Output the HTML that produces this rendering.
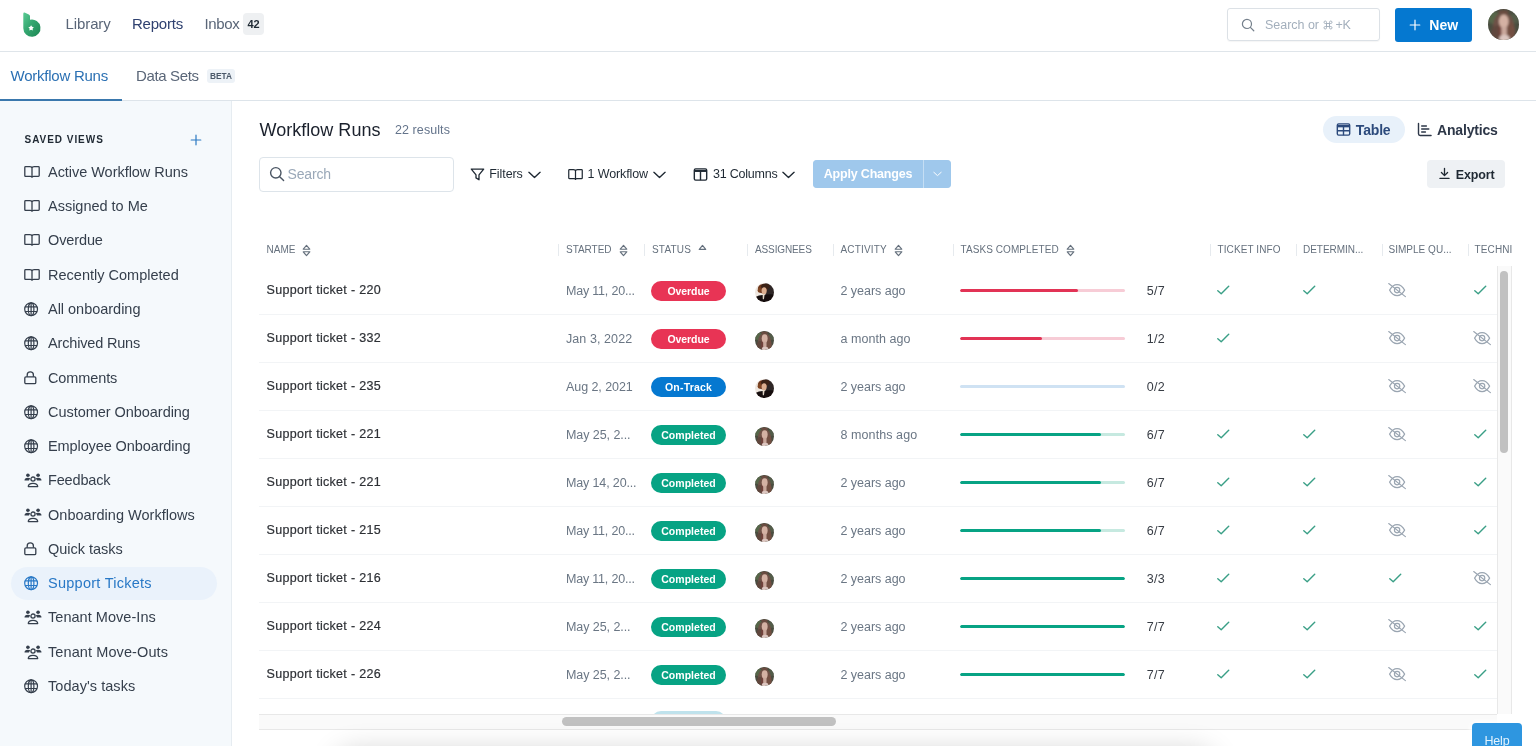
<!DOCTYPE html>
<html><head>
<meta charset="utf-8">
<title>Workflow Runs</title>
<style>
*{box-sizing:border-box;margin:0;padding:0}
html,body{width:1536px;height:746px;overflow:hidden;background:#fff}
body{will-change:transform;font-family:"Liberation Sans",sans-serif;color:#2d3748;position:relative;-webkit-font-smoothing:antialiased}
.abs{position:absolute}
svg{display:block;overflow:visible}
/* top bar */
#top{position:absolute;left:0;top:0;width:1536px;height:52px;background:#fff;border-bottom:1px solid #dfe5ea}
.nav{position:absolute;top:15px;font-size:15px;line-height:18px;color:#5a6678;white-space:nowrap}
/* sub tabs */
#tabs{position:absolute;left:0;top:52px;width:1536px;height:49px;background:#fff;border-bottom:1px solid #dde4ea}
.tab{position:absolute;top:15px;font-size:15px;line-height:18px;white-space:nowrap}
/* sidebar */
#side{position:absolute;left:0;top:101px;width:232px;height:645px;background:#f5f9fc;border-right:1px solid #e6ecf1}
.sv{position:absolute;left:0;width:232px;height:34px}
.sv .ic{position:absolute;left:24px;top:9px;width:16px;height:16px;color:#353f4c}
.sv .tx{position:absolute;left:48px;top:8px;font-size:14.5px;line-height:18px;color:#353f4c;white-space:nowrap}
/* main */
#main{position:absolute;left:232px;top:101px;width:1304px;height:645px;background:#fff}
.tb{position:absolute;font-size:12.5px;line-height:16px;color:#1f2933;white-space:nowrap}
.th{position:absolute;top:244px;font-size:10px;line-height:12px;color:#66717e;white-space:nowrap}
.sep{position:absolute;top:244px;width:1px;height:12px;background:#e6eaee}
.row{position:absolute;left:259px;width:1238px;height:48px;border-bottom:1px solid #f2f4f6}
.row>*{position:absolute}
.nm{left:7px;top:15px;font-size:12.5px;line-height:16px;color:#2e3136;-webkit-text-stroke:.2px #2e3136;white-space:nowrap;letter-spacing:.1px}
.dt{left:307px;top:16px;font-size:12.5px;line-height:16px;color:#6a7684;white-space:nowrap}
.bd{left:392px;top:14px;width:75px;height:20px;border-radius:10px;color:#fff;font-weight:bold;font-size:10.5px;line-height:20px;text-align:center;white-space:nowrap}
.od{background:#e83455}.ot{background:#0578d0}.cp{background:#07a384}
.av{left:496.2px;top:15.8px;width:19px;height:19px;border-radius:50%;overflow:hidden}
.ac{left:581px;top:16px;font-size:12.5px;line-height:16px;color:#6a7684;white-space:nowrap}
.pb{left:701px;top:22px;width:165px;height:3px;border-radius:2px;overflow:hidden}
.pb i{display:block;height:3px;border-radius:2px}
.ct{left:859px;top:16px;width:47px;text-align:right;font-size:12.5px;line-height:16px;color:#383d45;white-space:nowrap;letter-spacing:.25px}
.k{top:16px;width:14px;height:14px}
.e{top:15.2px;width:18px;height:16px;margin-left:-0.7px}
.ava{background:radial-gradient(circle at 45% 38%,#e9cdb9 0,#d9b59f 16%,#6a4a3a 30%,rgba(0,0,0,0) 46%),linear-gradient(180deg,#d8d0c8 0,#b9a89a 45%,#1b1617 62%,#120f10 100%)}
.avb{background:radial-gradient(ellipse 32% 40% at 50% 42%,#ecc7b6 0,#dfb3a0 60%,rgba(0,0,0,0) 100%),radial-gradient(ellipse 60% 85% at 50% 60%,#84503f 0,#7a4a3b 60%,rgba(0,0,0,0) 100%),linear-gradient(180deg,#55563f,#4a4a3a)}
</style>
</head>
<body>
<svg width="0" height="0" style="position:absolute">
<defs>
<filter id="bl1" x="-10%" y="-10%" width="120%" height="120%"><feGaussianBlur stdDeviation="1.1"></feGaussianBlur></filter>
<filter id="bl2" x="-10%" y="-10%" width="120%" height="120%"><feGaussianBlur stdDeviation="0.7"></feGaussianBlur></filter>
<symbol id="av-b" viewBox="0 0 32 32"><rect width="32" height="32" fill="#4a4d40"></rect><g filter="url(#bl1)"><circle cx="6" cy="9" r="6.5" fill="#56664a"></circle><circle cx="27" cy="10" r="5" fill="#535c48"></circle><ellipse cx="16" cy="19" rx="11" ry="16" fill="#6e5146"></ellipse><ellipse cx="8.5" cy="25" rx="5.5" ry="8" fill="#60463d"></ellipse><ellipse cx="23.5" cy="23" rx="4.5" ry="9" fill="#735043"></ellipse><ellipse cx="12.3" cy="23" rx="1.8" ry="7" fill="#71423a"></ellipse><ellipse cx="16.3" cy="12.8" rx="5" ry="7.2" fill="#d4b1a3"></ellipse><rect x="13.8" y="18" width="5.6" height="12" fill="#caa89c"></rect><ellipse cx="17" cy="30.5" rx="5.5" ry="4" fill="#dcc6c0"></ellipse><ellipse cx="16" cy="3" rx="5.5" ry="2" fill="#6a4c40"></ellipse></g></symbol>
<symbol id="av-a" viewBox="0 0 20 20"><rect width="20" height="20" fill="#efe7e0"></rect><g filter="url(#bl2)"><path d="M11 0H20V20H11Z" fill="#2e2828"></path><ellipse cx="8" cy="6" rx="5" ry="4.8" fill="#6d391f"></ellipse><ellipse cx="11" cy="3.6" rx="4.5" ry="3" fill="#3a2118"></ellipse><ellipse cx="4.6" cy="7.6" rx="1.8" ry="2.6" fill="#7e4423"></ellipse><ellipse cx="9.6" cy="8.2" rx="2.7" ry="3.7" fill="#dcae8f"></ellipse><path d="M0 15Q5 12.2 9 12.6Q14 11.5 20 12V20H0Z" fill="#120e0e"></path><path d="M8 11.6H10.2L9.4 17.2H8.2Z" fill="#e4d6c6"></path></g></symbol>
<symbol id="i-book" viewBox="0 0 16 16"><path d="M0.8 3.5Q0.8 2.7 1.6 2.7H5.8Q8 2.7 8 4.3Q8 2.7 10.2 2.7H14.4Q15.2 2.7 15.2 3.5V11.6Q15.2 12.4 14.4 12.4H9.6Q8 12.4 8 13.3Q8 12.4 6.4 12.4H1.6Q0.8 12.4 0.8 11.6ZM8 4.3V13.2" fill="none" stroke="currentColor" stroke-width="1.3" stroke-linejoin="round" stroke-linecap="round"></path></symbol>
<symbol id="i-globe" viewBox="0 0 16 16"><g fill="none" stroke="currentColor" stroke-width="1.2"><circle cx="7.1" cy="8.2" r="6.4"></circle><ellipse cx="7.1" cy="8.2" rx="2.8" ry="6.4"></ellipse><path d="M7.1 1.8V14.6M1.2 5.9H13M1.2 10.5H13"></path></g></symbol>
<symbol id="i-lock" viewBox="0 0 16 16"><g fill="none" stroke="currentColor" stroke-width="1.3" stroke-linejoin="round"><rect x="0.8" y="6.8" width="11" height="6.9" rx="1.2"></rect><path d="M3.2 6.8V4.9a3.1 3.1 0 0 1 6.2 0V6.8"></path></g></symbol>
<symbol id="i-users" viewBox="0 0 20 16"><g fill="currentColor"><circle cx="3.9" cy="3.2" r="1.8"></circle><circle cx="14.1" cy="3.2" r="1.8"></circle><path d="M0.5 8.5Q0.5 5.8 3.9 5.8Q5.7 5.8 6.3 6.6Q5.2 7.4 5 8.5Z"></path><path d="M17.5 8.5Q17.5 5.8 14.1 5.8Q12.3 5.8 11.7 6.6Q12.8 7.4 13 8.5Z"></path></g><g fill="none" stroke="currentColor" stroke-width="1.3"><circle cx="9" cy="7.1" r="2.1"></circle><path d="M4.3 14.6Q4.3 11.4 9 11.4Q13.7 11.4 13.7 14.6Z" stroke-linejoin="round"></path></g></symbol>
<symbol id="i-search" viewBox="0 0 16 16"><g fill="none" stroke="currentColor" stroke-width="1.4" stroke-linecap="round"><circle cx="6.8" cy="6.8" r="5.2"></circle><path d="M10.7 10.7L14.6 14.6"></path></g></symbol>
<symbol id="i-filter" viewBox="0 0 16 16"><path d="M1.4 2.2H14.6L9.6 8.4V13.6L6.4 11.6V8.4Z" fill="none" stroke="currentColor" stroke-width="1.4" stroke-linejoin="round"></path></symbol>
<symbol id="i-chev" viewBox="0 0 14 8"><path d="M1 1L7 6.6L13 1" fill="none" stroke="currentColor" stroke-width="1.5" stroke-linecap="round" stroke-linejoin="round"></path></symbol>
<symbol id="i-cols" viewBox="0 0 16 16"><g fill="none" stroke="currentColor" stroke-width="1.5" stroke-linejoin="round"><rect x="1.4" y="2" width="13.2" height="12" rx="1.4"></rect><path d="M1.4 4.2H14.6" stroke-width="2.2"></path><path d="M8 4V14"></path></g></symbol>
<symbol id="i-table" viewBox="0 0 16 16"><g fill="none" stroke="currentColor" stroke-width="1.5" stroke-linejoin="round"><rect x="1.4" y="2" width="13.2" height="12" rx="1.4"></rect><path d="M1.4 4.4H14.6" stroke-width="2.6"></path><path d="M8 5V14M1.4 9.4H14.6"></path></g></symbol>
<symbol id="i-chart" viewBox="0 0 16 16"><path d="M1.6 1.6V12.6Q1.6 14.4 3.4 14.4H15M5 4.2H10M5 7.4H12.6M5 10.6H9" fill="none" stroke="currentColor" stroke-width="1.5" stroke-linecap="round"></path></symbol>
<symbol id="i-dl" viewBox="0 0 16 16"><path d="M8 1.6V10.4M4.2 6.8L8 10.6L11.8 6.8M2.4 14H13.6" fill="none" stroke="currentColor" stroke-width="1.6" stroke-linecap="round" stroke-linejoin="round"></path></symbol>
<symbol id="i-sort" viewBox="0 0 10 14"><g fill="none" stroke="currentColor" stroke-width="1.3" stroke-linejoin="round"><path d="M5 1.2L8.6 5.6H1.4Z"></path><path d="M5 12.8L8.6 8.4H1.4Z"></path></g></symbol>
<symbol id="i-asc" viewBox="0 0 10 7"><path d="M5 1.2L8.6 5.6H1.4Z" fill="none" stroke="currentColor" stroke-width="1.3" stroke-linejoin="round"></path></symbol>
<symbol id="i-check" viewBox="0 0 14 14"><path d="M0.8 7.7L4.2 10.7L11.7 3.3" fill="none" stroke="currentColor" stroke-width="1.4" stroke-linecap="round" stroke-linejoin="round"></path></symbol>
<symbol id="i-eye" viewBox="0 0 18 16"><g fill="none" stroke="currentColor" stroke-width="1.15" stroke-linecap="round"><path d="M1.6 8.1Q4.6 2.6 9.1 2.6Q13.6 2.6 16.6 8.1Q13.6 13.6 9.1 13.6Q4.6 13.6 1.6 8.1Z"></path><circle cx="9.1" cy="8.1" r="2.7"></circle><path d="M0.7 1.5L17.4 14.6"></path></g></symbol>
<symbol id="i-plus" viewBox="0 0 12 12"><path d="M6 1.2V10.8M1.2 6H10.8" fill="none" stroke="currentColor" stroke-width="1.2" stroke-linecap="round"></path></symbol>
</defs></svg>
<!-- TOPBAR -->
<div id="top">
  <div class="abs" id="logo" style="left:22px;top:12px;width:20px;height:26px"><svg width="20" height="26" viewBox="0 0 20 26"><defs><linearGradient id="lg" x1="0" y1="0" x2="1" y2="1"><stop offset="0" stop-color="#5acb93"></stop><stop offset=".45" stop-color="#35a771"></stop><stop offset="1" stop-color="#1c8753"></stop></linearGradient></defs><path fill="url(#lg)" fill-rule="evenodd" d="M1.3 16.2V2.1Q1.3 0.1 3.1 0.8L6.8 2.4Q8 3 8 4.3V7.8A8.6 8.6 0 1 1 1.3 16.2ZM9.10 13.20L10.04 14.81L11.86 15.20L10.62 16.59L10.80 18.45L9.10 17.70L7.40 18.45L7.58 16.59L6.34 15.20L8.16 14.81Z"></path></svg></div>
  <div class="nav" style="left: 65.6px; letter-spacing: -0.12px;">Library</div>
  <div class="nav" style="left: 132px; color: rgb(47, 65, 112); letter-spacing: -0.22px;">Reports</div>
  <div class="nav" style="left: 204.5px; letter-spacing: -0.34px;">Inbox</div>
  <div class="abs" style="left:243px;top:13px;width:21px;height:22px;border-radius:4px;background:#eef0f2;font-size:11px;line-height:22px;text-align:center;color:#1f2933;font-weight:bold">42</div>
  <div class="abs" id="gsearch" style="left:1227px;top:8px;width:153px;height:33px;border:1px solid #dce1e6;border-radius:3px;box-shadow:0 1px 1px rgba(0,0,0,.04)"><svg class="abs" style="left:13px;top:9px;width:14px;height:14px;color:#75808c" viewBox="0 0 16 16"><use href="#i-search"></use></svg><div class="abs" style="left: 37px; top: 8px; font-size: 12.5px; line-height: 16px; color: rgb(163, 175, 188); white-space: nowrap; letter-spacing: -0.02px;">Search or</div><svg class="abs" style="left:95.4px;top:11px;width:10px;height:10px;color:#a3afbc" viewBox="0 0 10 10"><path d="M3.5 3.5H2.25A1.25 1.25 0 1 1 3.5 2.25V7.75A1.25 1.25 0 1 1 2.25 6.5H7.75A1.25 1.25 0 1 1 6.5 7.75V2.25A1.25 1.25 0 1 1 7.75 3.5H3.5Z" fill="none" stroke="currentColor" stroke-width="0.95"></path></svg><div class="abs" style="left: 107.6px; top: 8px; font-size: 12.5px; line-height: 16px; color: rgb(163, 175, 188); white-space: nowrap; letter-spacing: -0.47px;">+K</div></div>
  <div class="abs" id="newbtn" style="left:1395px;top:8px;width:77px;height:34px;border-radius:3px;background:#0578d0"><svg class="abs" style="left:14px;top:11px;width:12px;height:12px;color:#fff" viewBox="0 0 12 12"><use href="#i-plus"></use></svg><div class="abs" style="left: 34.3px; top: 8px; font-size: 14px; line-height: 18px; color: rgb(255, 255, 255); font-weight: bold; white-space: nowrap; letter-spacing: 0px;">New</div></div>
  <div class="abs" id="me" style="left:1488px;top:9px;width:31px;height:31px;border-radius:50%;overflow:hidden"><svg width="31" height="31" viewBox="0 0 32 32"><use href="#av-b"></use></svg></div>
</div>
<!-- TABS -->
<div id="tabs">
  <div class="tab" style="left: 10.5px; color: rgb(43, 112, 179); letter-spacing: -0.24px;">Workflow Runs</div>
  <div class="tab" style="left: 136px; color: rgb(90, 102, 120); letter-spacing: -0.35px;">Data Sets</div>
  <div class="abs" style="left:207px;top:17.4px;width:28px;height:13.5px;border-radius:3px;background:#edf2f7"></div><div class="abs" style="left:209.8px;top:17.6px;font-size:9px;line-height:13px;color:#4a5869;font-weight:bold;white-space:nowrap;transform:scaleX(.92);transform-origin:0 50%">BETA</div>
  <div class="abs" style="left:0;top:47px;width:122px;height:2px;background:#3a78ad"></div>
</div>
<!-- SIDEBAR -->
<div id="side">
  <div class="abs" style="left: 24.5px; top: 32px; font-size: 10px; line-height: 13px; font-weight: bold; letter-spacing: 0.96px; color: rgb(31, 41, 51);">SAVED VIEWS</div>
  <div class="sv" style="top:54px"><svg class="ic" style="width:16px" viewBox="0 0 16 16"><use href="#i-book"></use></svg><div class="tx" style="letter-spacing: -0.04px;">Active Workflow Runs</div></div>
  <div class="sv" style="top:88px"><svg class="ic" style="width:16px" viewBox="0 0 16 16"><use href="#i-book"></use></svg><div class="tx" style="letter-spacing: -0.01px;">Assigned to Me</div></div>
  <div class="sv" style="top:122px"><svg class="ic" style="width:16px" viewBox="0 0 16 16"><use href="#i-book"></use></svg><div class="tx" style="letter-spacing: -0.12px;">Overdue</div></div>
  <div class="sv" style="top:156.5px"><svg class="ic" style="width:16px" viewBox="0 0 16 16"><use href="#i-book"></use></svg><div class="tx" style="letter-spacing: 0.01px;">Recently Completed</div></div>
  <div class="sv" style="top:191px"><svg class="ic" style="width:16px" viewBox="0 0 16 16"><use href="#i-globe"></use></svg><div class="tx" style="letter-spacing: -0.02px;">All onboarding</div></div>
  <div class="sv" style="top:225px"><svg class="ic" style="width:16px" viewBox="0 0 16 16"><use href="#i-globe"></use></svg><div class="tx" style="letter-spacing: -0.17px;">Archived Runs</div></div>
  <div class="sv" style="top:259.5px"><svg class="ic" style="width:16px" viewBox="0 0 16 16"><use href="#i-lock"></use></svg><div class="tx" style="letter-spacing: -0.11px;">Comments</div></div>
  <div class="sv" style="top:294px"><svg class="ic" style="width:16px" viewBox="0 0 16 16"><use href="#i-globe"></use></svg><div class="tx" style="letter-spacing: -0.04px;">Customer Onboarding</div></div>
  <div class="sv" style="top:328px"><svg class="ic" style="width:16px" viewBox="0 0 16 16"><use href="#i-globe"></use></svg><div class="tx" style="letter-spacing: -0.1px;">Employee Onboarding</div></div>
  <div class="sv" style="top:362px"><svg class="ic" style="width:20px" viewBox="0 0 20 16"><use href="#i-users"></use></svg><div class="tx" style="letter-spacing: -0.16px;">Feedback</div></div>
  <div class="sv" style="top:396.5px"><svg class="ic" style="width:20px" viewBox="0 0 20 16"><use href="#i-users"></use></svg><div class="tx" style="letter-spacing: 0.02px;">Onboarding Workflows</div></div>
  <div class="sv" style="top:431px"><svg class="ic" style="width:16px" viewBox="0 0 16 16"><use href="#i-lock"></use></svg><div class="tx" style="letter-spacing: -0.03px;">Quick tasks</div></div>
  <div class="sv" style="top:465px"><div class="abs" style="left:11px;top:1px;width:206px;height:33px;border-radius:17px;background:#eaf2fb"></div><svg class="ic" style="width:16px;color:#2878c6" viewBox="0 0 16 16"><use href="#i-globe"></use></svg><div class="tx" style="color: rgb(40, 120, 198); letter-spacing: 0.26px;">Support Tickets</div></div>
  <div class="sv" style="top:499px"><svg class="ic" style="width:20px" viewBox="0 0 20 16"><use href="#i-users"></use></svg><div class="tx" style="letter-spacing: 0.04px;">Tenant Move-Ins</div></div>
  <div class="sv" style="top:533.5px"><svg class="ic" style="width:20px" viewBox="0 0 20 16"><use href="#i-users"></use></svg><div class="tx" style="letter-spacing: 0.1px;">Tenant Move-Outs</div></div>
  <div class="sv" style="top:568px"><svg class="ic" style="width:16px" viewBox="0 0 16 16"><use href="#i-globe"></use></svg><div class="tx" style="letter-spacing: 0.05px;">Today's tasks</div></div>
  <svg class="abs" style="left:189.8px;top:32.6px;width:12px;height:12px;color:#2b79c2" viewBox="0 0 12 12"><use href="#i-plus"></use></svg>
</div>
<!-- MAIN -->
<div id="main">
  <div class="abs" style="left: 27.5px; top: 17px; font-size: 18px; line-height: 24px; color: rgb(26, 32, 44); white-space: nowrap; letter-spacing: 0.02px;">Workflow Runs</div>
  <div class="abs" style="left: 163px; top: 21px; font-size: 12.5px; line-height: 16px; color: rgb(100, 116, 139); white-space: nowrap; letter-spacing: 0.08px;">22 results</div>
  <div class="abs" style="left:1091px;top:15px;width:82px;height:27px;border-radius:14px;background:#e8f1fa"></div>
  <svg class="abs" style="left:1104px;top:21px;width:15px;height:15px;color:#2c4a7c" viewBox="0 0 16 16"><use href="#i-table"></use></svg>
  <div class="abs" style="left: 1123.8px; top: 19.6px; font-size: 14px; line-height: 18px; font-weight: bold; color: rgb(44, 74, 124); white-space: nowrap; letter-spacing: -0.17px;">Table</div>
  <svg class="abs" style="left:1185px;top:21px;width:15px;height:15px;color:#2d3748" viewBox="0 0 16 16"><use href="#i-chart"></use></svg>
  <div class="abs" style="left: 1205px; top: 19.6px; font-size: 14px; line-height: 18px; font-weight: bold; color: rgb(45, 55, 72); white-space: nowrap; letter-spacing: -0.17px;">Analytics</div>
  <!-- toolbar -->
  <div class="abs" style="left:27px;top:56px;width:195px;height:35px;border:1px solid #dde4ea;border-radius:4px"><svg class="abs" style="left:9px;top:8px;width:16px;height:16px;color:#4a5563" viewBox="0 0 16 16"><use href="#i-search"></use></svg><div class="abs" style="left: 27.5px; top: 7px; font-size: 14px; line-height: 18px; color: rgb(154, 168, 184); white-space: nowrap; letter-spacing: -0.14px;">Search</div></div>
  <svg class="abs" style="left:238px;top:66px;width:15px;height:15px;color:#1f2933" viewBox="0 0 16 16"><use href="#i-filter"></use></svg>
  <div class="tb" style="left: 257.3px; top: 65px; letter-spacing: -0.08px;">Filters</div>
  <svg class="abs" style="left:296px;top:70px;width:13px;height:8px;color:#1f2933" viewBox="0 0 14 8"><use href="#i-chev"></use></svg>
  <svg class="abs" style="left:336px;top:66px;width:15px;height:15px;color:#1f2933" viewBox="0 0 16 16"><use href="#i-book"></use></svg>
  <div class="tb" style="left: 355.5px; top: 65px; letter-spacing: -0.11px;">1 Workflow</div>
  <svg class="abs" style="left:421px;top:70px;width:13px;height:8px;color:#1f2933" viewBox="0 0 14 8"><use href="#i-chev"></use></svg>
  <svg class="abs" style="left:461px;top:66px;width:15px;height:15px;color:#1f2933" viewBox="0 0 16 16"><use href="#i-cols"></use></svg>
  <div class="tb" style="left: 481px; top: 65px; letter-spacing: -0.22px;">31 Columns</div>
  <svg class="abs" style="left:550px;top:70px;width:13px;height:8px;color:#1f2933" viewBox="0 0 14 8"><use href="#i-chev"></use></svg>
  <div class="abs" style="left:581px;top:59px;width:138px;height:28px;border-radius:4px;background:#c5def4"></div><div class="abs" style="left: 581px; top: 59px; width: 110px; height: 28px; border-radius: 4px 0px 0px 4px; background: rgb(159, 200, 236); color: rgb(255, 255, 255); font-weight: bold; font-size: 12.5px; line-height: 28px; text-align: center; white-space: nowrap; letter-spacing: -0.19px;">Apply Changes</div>
  <div class="abs" style="left:692px;top:59px;width:27px;height:28px;border-radius:0 4px 4px 0;background:#9fc8ec"><svg class="abs" style="left:9px;top:11px;width:9px;height:6px;color:#fff" viewBox="0 0 14 8"><use href="#i-chev"></use></svg></div>
  <div class="abs" style="left:1195px;top:59px;width:78px;height:28px;border-radius:4px;background:#eef1f4"><svg class="abs" style="left:11px;top:7px;width:13px;height:13px;color:#1f2933" viewBox="0 0 16 16"><use href="#i-dl"></use></svg><div class="abs" style="left: 28.7px; top: 6.8px; font-size: 12.5px; line-height: 16px; font-weight: bold; color: rgb(31, 41, 51); white-space: nowrap; letter-spacing: -0.13px;">Export</div></div>
</div>
<!-- TABLE -->
<div id="tbl" class="abs" style="left:0;top:0;width:1536px;height:746px;pointer-events:none">
  <div class="th" style="left: 266.5px; letter-spacing: 0.02px;">NAME</div>
  <svg class="abs" style="left:302px;top:243.6px;width:9px;height:13px;color:#66717e" viewBox="0 0 10 14"><use href="#i-sort"></use></svg>
  <div class="th" style="left: 566px; letter-spacing: -0.04px;">STARTED</div>
  <svg class="abs" style="left:619px;top:243.6px;width:9px;height:13px;color:#66717e" viewBox="0 0 10 14"><use href="#i-sort"></use></svg>
  <div class="th" style="left: 652px; letter-spacing: 0.17px;">STATUS</div>
  <svg class="abs" style="left:697.6px;top:243.6px;width:9px;height:7px;color:#66717e" viewBox="0 0 10 7"><use href="#i-asc"></use></svg>
  <div class="th" style="left: 755px; letter-spacing: -0.12px;">ASSIGNEES</div>
  <div class="th" style="left: 840.5px; letter-spacing: 0.15px;">ACTIVITY</div>
  <svg class="abs" style="left:894px;top:243.6px;width:9px;height:13px;color:#66717e" viewBox="0 0 10 14"><use href="#i-sort"></use></svg>
  <div class="th" style="left: 960.5px; letter-spacing: 0.08px;">TASKS COMPLETED</div>
  <svg class="abs" style="left:1066px;top:243.6px;width:9px;height:13px;color:#66717e" viewBox="0 0 10 14"><use href="#i-sort"></use></svg>
  <div class="th" style="left: 1217.5px; letter-spacing: 0.09px;">TICKET INFO</div>
  <div class="th" style="left: 1303px; letter-spacing: -0.03px;">DETERMIN...</div>
  <div class="th" style="left: 1388.5px; letter-spacing: 0.02px;">SIMPLE QU...</div>
  <div class="th" style="left: 1474.5px; letter-spacing: 0.13px;">TECHNI</div>
  <div class="sep" style="left:558px"></div>
  <div class="sep" style="left:644px"></div>
  <div class="sep" style="left:747px"></div>
  <div class="sep" style="left:833px"></div>
  <div class="sep" style="left:953px"></div>
  <div class="sep" style="left:1210px"></div>
  <div class="sep" style="left:1296px"></div>
  <div class="sep" style="left:1382px"></div>
  <div class="sep" style="left:1468px"></div>
  <div class="row" style="top:267px"><div class="nm" style="letter-spacing: 0.3px; left: 7.5px;">Support ticket - 220</div><div class="dt" style="letter-spacing: -0.2px;">May 11, 20...</div><div class="bd od" style="letter-spacing: -0.09px;">Overdue</div><div class="av"><svg width="19" height="19" viewBox="0 0 20 20"><use href="#av-a"></use></svg></div><div class="ac" style="letter-spacing: -0.03px; left: 581.5px;">2 years ago</div><div class="pb" style="background:#f7ccd6"><i style="width:118px;background:#e23355"></i></div><div class="ct">5/7</div><svg class="k" style="left:958px;color:#3a9f86" viewBox="0 0 14 14"><use href="#i-check"></use></svg><svg class="k" style="left:1044px;color:#3a9f86" viewBox="0 0 14 14"><use href="#i-check"></use></svg><svg class="e" style="left:1130px;color:#9aa5b1" viewBox="0 0 18 16"><use href="#i-eye"></use></svg><svg class="k" style="left:1215px;color:#3a9f86" viewBox="0 0 14 14"><use href="#i-check"></use></svg></div>
  <div class="row" style="top:315px"><div class="nm" style="letter-spacing: 0.3px; left: 7.5px;">Support ticket - 332</div><div class="dt" style="letter-spacing: 0.08px;">Jan 3, 2022</div><div class="bd od" style="letter-spacing: -0.09px;">Overdue</div><div class="av"><svg width="19" height="19" viewBox="0 0 32 32"><use href="#av-b"></use></svg></div><div class="ac" style="letter-spacing: 0.05px; left: 581.5px;">a month ago</div><div class="pb" style="background:#f7ccd6"><i style="width:82px;background:#e23355"></i></div><div class="ct">1/2</div><svg class="k" style="left:958px;color:#3a9f86" viewBox="0 0 14 14"><use href="#i-check"></use></svg><svg class="e" style="left:1130px;color:#9aa5b1" viewBox="0 0 18 16"><use href="#i-eye"></use></svg><svg class="e" style="left:1215px;color:#9aa5b1" viewBox="0 0 18 16"><use href="#i-eye"></use></svg></div>
  <div class="row" style="top:363px"><div class="nm" style="letter-spacing: 0.3px; left: 7.5px;">Support ticket - 235</div><div class="dt" style="letter-spacing: -0.06px;">Aug 2, 2021</div><div class="bd ot" style="letter-spacing: 0.18px;">On-Track</div><div class="av"><svg width="19" height="19" viewBox="0 0 20 20"><use href="#av-a"></use></svg></div><div class="ac" style="letter-spacing: -0.03px; left: 581.5px;">2 years ago</div><div class="pb" style="background:#cfe2f3"><i style="width:0px;background:#0d6fce"></i></div><div class="ct">0/2</div><svg class="e" style="left:1130px;color:#9aa5b1" viewBox="0 0 18 16"><use href="#i-eye"></use></svg><svg class="e" style="left:1215px;color:#9aa5b1" viewBox="0 0 18 16"><use href="#i-eye"></use></svg></div>
  <div class="row" style="top:411px"><div class="nm" style="letter-spacing: 0.3px; left: 7.5px;">Support ticket - 221</div><div class="dt" style="letter-spacing: -0.07px;">May 25, 2...</div><div class="bd cp" style="letter-spacing: 0.03px;">Completed</div><div class="av"><svg width="19" height="19" viewBox="0 0 32 32"><use href="#av-b"></use></svg></div><div class="ac" style="letter-spacing: 0.08px; left: 581.5px;">8 months ago</div><div class="pb" style="background:#c6e9e0"><i style="width:141px;background:#07a384"></i></div><div class="ct">6/7</div><svg class="k" style="left:958px;color:#3a9f86" viewBox="0 0 14 14"><use href="#i-check"></use></svg><svg class="k" style="left:1044px;color:#3a9f86" viewBox="0 0 14 14"><use href="#i-check"></use></svg><svg class="e" style="left:1130px;color:#9aa5b1" viewBox="0 0 18 16"><use href="#i-eye"></use></svg><svg class="k" style="left:1215px;color:#3a9f86" viewBox="0 0 14 14"><use href="#i-check"></use></svg></div>
  <div class="row" style="top:459px"><div class="nm" style="letter-spacing: 0.3px; left: 7.5px;">Support ticket - 221</div><div class="dt" style="letter-spacing: -0.14px;">May 14, 20...</div><div class="bd cp" style="letter-spacing: 0.03px;">Completed</div><div class="av"><svg width="19" height="19" viewBox="0 0 32 32"><use href="#av-b"></use></svg></div><div class="ac" style="letter-spacing: -0.03px; left: 581.5px;">2 years ago</div><div class="pb" style="background:#c6e9e0"><i style="width:141px;background:#07a384"></i></div><div class="ct">6/7</div><svg class="k" style="left:958px;color:#3a9f86" viewBox="0 0 14 14"><use href="#i-check"></use></svg><svg class="k" style="left:1044px;color:#3a9f86" viewBox="0 0 14 14"><use href="#i-check"></use></svg><svg class="e" style="left:1130px;color:#9aa5b1" viewBox="0 0 18 16"><use href="#i-eye"></use></svg><svg class="k" style="left:1215px;color:#3a9f86" viewBox="0 0 14 14"><use href="#i-check"></use></svg></div>
  <div class="row" style="top:507px"><div class="nm" style="letter-spacing: 0.3px; left: 7.5px;">Support ticket - 215</div><div class="dt" style="letter-spacing: -0.2px;">May 11, 20...</div><div class="bd cp" style="letter-spacing: 0.03px;">Completed</div><div class="av"><svg width="19" height="19" viewBox="0 0 32 32"><use href="#av-b"></use></svg></div><div class="ac" style="letter-spacing: -0.03px; left: 581.5px;">2 years ago</div><div class="pb" style="background:#c6e9e0"><i style="width:141px;background:#07a384"></i></div><div class="ct">6/7</div><svg class="k" style="left:958px;color:#3a9f86" viewBox="0 0 14 14"><use href="#i-check"></use></svg><svg class="k" style="left:1044px;color:#3a9f86" viewBox="0 0 14 14"><use href="#i-check"></use></svg><svg class="e" style="left:1130px;color:#9aa5b1" viewBox="0 0 18 16"><use href="#i-eye"></use></svg><svg class="k" style="left:1215px;color:#3a9f86" viewBox="0 0 14 14"><use href="#i-check"></use></svg></div>
  <div class="row" style="top:555px"><div class="nm" style="letter-spacing: 0.3px; left: 7.5px;">Support ticket - 216</div><div class="dt" style="letter-spacing: -0.2px;">May 11, 20...</div><div class="bd cp" style="letter-spacing: 0.03px;">Completed</div><div class="av"><svg width="19" height="19" viewBox="0 0 32 32"><use href="#av-b"></use></svg></div><div class="ac" style="letter-spacing: -0.03px; left: 581.5px;">2 years ago</div><div class="pb" style="background:#c6e9e0"><i style="width:165px;background:#07a384"></i></div><div class="ct">3/3</div><svg class="k" style="left:958px;color:#3a9f86" viewBox="0 0 14 14"><use href="#i-check"></use></svg><svg class="k" style="left:1044px;color:#3a9f86" viewBox="0 0 14 14"><use href="#i-check"></use></svg><svg class="k" style="left:1130px;color:#3a9f86" viewBox="0 0 14 14"><use href="#i-check"></use></svg><svg class="e" style="left:1215px;color:#9aa5b1" viewBox="0 0 18 16"><use href="#i-eye"></use></svg></div>
  <div class="row" style="top:603px"><div class="nm" style="letter-spacing: 0.3px; left: 7.5px;">Support ticket - 224</div><div class="dt" style="letter-spacing: -0.07px;">May 25, 2...</div><div class="bd cp" style="letter-spacing: 0.03px;">Completed</div><div class="av"><svg width="19" height="19" viewBox="0 0 32 32"><use href="#av-b"></use></svg></div><div class="ac" style="letter-spacing: -0.03px; left: 581.5px;">2 years ago</div><div class="pb" style="background:#c6e9e0"><i style="width:165px;background:#07a384"></i></div><div class="ct">7/7</div><svg class="k" style="left:958px;color:#3a9f86" viewBox="0 0 14 14"><use href="#i-check"></use></svg><svg class="k" style="left:1044px;color:#3a9f86" viewBox="0 0 14 14"><use href="#i-check"></use></svg><svg class="e" style="left:1130px;color:#9aa5b1" viewBox="0 0 18 16"><use href="#i-eye"></use></svg><svg class="k" style="left:1215px;color:#3a9f86" viewBox="0 0 14 14"><use href="#i-check"></use></svg></div>
  <div class="row" style="top:651px"><div class="nm" style="letter-spacing: 0.3px; left: 7.5px;">Support ticket - 226</div><div class="dt" style="letter-spacing: -0.07px;">May 25, 2...</div><div class="bd cp" style="letter-spacing: 0.03px;">Completed</div><div class="av"><svg width="19" height="19" viewBox="0 0 32 32"><use href="#av-b"></use></svg></div><div class="ac" style="letter-spacing: -0.03px; left: 581.5px;">2 years ago</div><div class="pb" style="background:#c6e9e0"><i style="width:165px;background:#07a384"></i></div><div class="ct">7/7</div><svg class="k" style="left:958px;color:#3a9f86" viewBox="0 0 14 14"><use href="#i-check"></use></svg><svg class="k" style="left:1044px;color:#3a9f86" viewBox="0 0 14 14"><use href="#i-check"></use></svg><svg class="e" style="left:1130px;color:#9aa5b1" viewBox="0 0 18 16"><use href="#i-eye"></use></svg><svg class="k" style="left:1215px;color:#3a9f86" viewBox="0 0 14 14"><use href="#i-check"></use></svg></div>
  <div class="abs" style="left:651px;top:711.4px;width:75px;height:3px;overflow:hidden"><div style="width:75px;height:20px;border-radius:10px;background:#bfe2ec"></div></div>
  <div class="abs" style="left:259px;top:714px;width:1238px;height:16px;background:#fafafa;border-top:1px solid #e8e8e8;border-bottom:1px solid #e8e8e8"></div>
  <div class="abs" style="left:562px;top:717px;width:274px;height:9px;border-radius:5px;background:#c1c1c1"></div>
  <div class="abs" style="left:1497px;top:266px;width:15px;height:448px;background:#fafafa;border-left:1px solid #e8e8e8;border-right:1px solid #e8e8e8"></div>
  <div class="abs" style="left:1500px;top:270.5px;width:8px;height:182px;border-radius:4px;background:#c1c1c1"></div>
  <div class="abs" style="left:1512px;top:230px;width:24px;height:500px;background:#fff"></div>
  <div class="abs" style="left:345px;top:760px;width:860px;height:40px;border-radius:8px;background:#fff;box-shadow:0 0 30px 8px rgba(0,0,0,.2)"></div>
  <div class="abs" style="left:1472px;top:723px;width:50px;height:30px;border-radius:4px 4px 0 0;background:#2e96e0;color:#e4f3fd;font-size:12.5px;line-height:36px;text-align:center;letter-spacing:-.2px;box-shadow:0 0 5px 2px rgba(255,255,255,.9)">Help</div>
</div>





</body></html>
